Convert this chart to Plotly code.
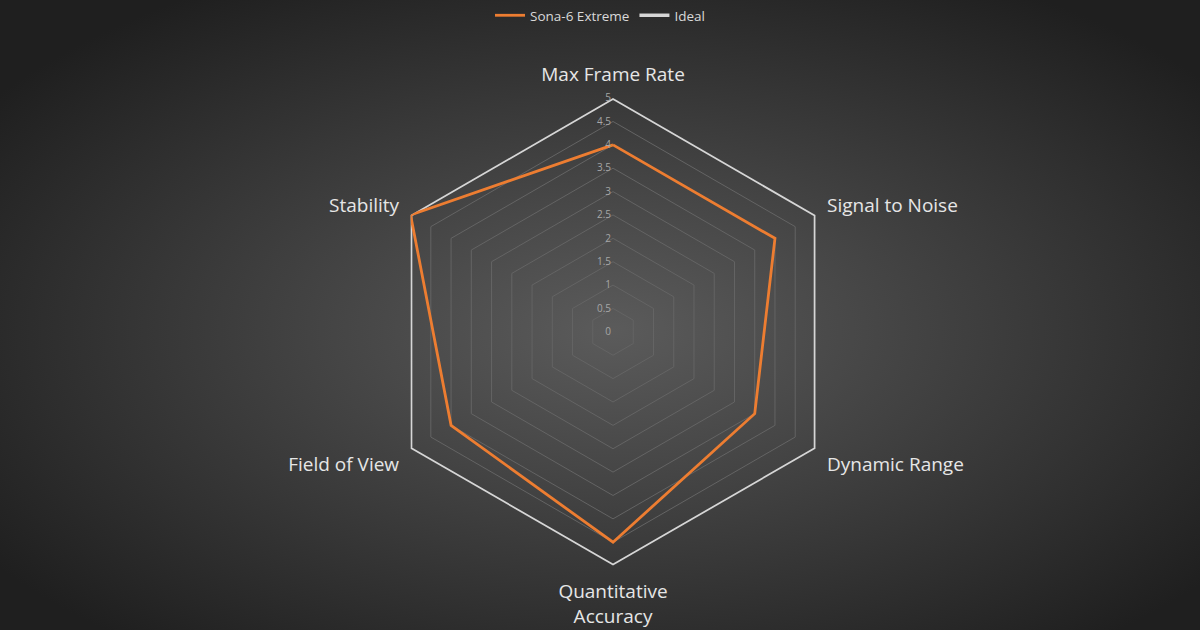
import base64

import plotly.graph_objects as go

# chart data
categories = ['Max Frame Rate', 'Signal to Noise', 'Dynamic Range',
              'Quantitative<br>Accuracy', 'Field of View', 'Stability']
sona_values = [4, 4, 3.5, 4.5, 4, 5]
ideal_values = [5, 5, 5, 5, 5, 5]
series_names = ['Sona-6 Extreme', 'Ideal']


def closed(values):
    return list(values) + [values[0]]


# radial gradient background like the Excel chart area
svg = (
    '<svg xmlns="http://www.w3.org/2000/svg" width="1200" height="630" '
    'preserveAspectRatio="none">'
    '<defs><radialGradient id="g" cx="0.51" cy="0.52" r="0.62">'
    '<stop offset="0" stop-color="#5b5b5b"/>'
    '<stop offset="1" stop-color="#1f1f1f"/>'
    '</radialGradient></defs>'
    '<rect width="1200" height="630" fill="url(#g)"/></svg>'
)
bg_uri = 'data:image/svg+xml;base64,' + base64.b64encode(svg.encode()).decode()

fig = go.Figure()
fig.add_trace(go.Scatterpolar(
    r=closed(ideal_values), theta=closed(categories), name=series_names[1],
    mode='lines', line={'color': '#d6d6d6', 'width': 3.5},
    legendrank=2, hoverinfo='skip',
))
fig.add_trace(go.Scatterpolar(
    r=closed(sona_values), theta=closed(categories), name=series_names[0],
    mode='lines', line={'color': '#ed7d31', 'width': 2.8},
    legendrank=1, hoverinfo='skip',
))

fig.update_layout(
    width=1200, height=630,
    margin={'l': 0, 'r': 0, 't': 0, 'b': 0},
    paper_bgcolor='#252525',
    font={'family': 'Open Sans', 'color': '#d9d9d9'},
    images=[{
        'source': bg_uri, 'xref': 'paper', 'yref': 'paper',
        'x': -0.01, 'y': 1.02, 'sizex': 1.02, 'sizey': 1.04,
        'xanchor': 'left', 'yanchor': 'top',
        'sizing': 'stretch', 'layer': 'below',
    }],
    legend={
        'orientation': 'h', 'x': 0.5, 'xanchor': 'center',
        'y': 1.01, 'yanchor': 'top',
        'font': {'size': 13.5, 'color': '#d9d9d9'},
        'bgcolor': 'rgba(0,0,0,0)', 'itemwidth': 30,
    },
    polar={
        'domain': {'x': [0.3142, 0.7075], 'y': [0.1032, 0.8524]},
        'bgcolor': 'rgba(0,0,0,0)',
        'gridshape': 'linear',
        'angularaxis': {
            'rotation': 90, 'direction': 'clockwise',
            'showgrid': False, 'showline': False,
            'ticks': 'outside', 'ticklen': 9,
            'tickcolor': 'rgba(0,0,0,0)',
            'tickfont': {'size': 19, 'color': '#e6e6e6'},
        },
        'radialaxis': {
            'range': [0, 5], 'dtick': 0.5, 'angle': 90, 'tickangle': 90,
            'side': 'counterclockwise',
            'showline': False, 'ticks': '',
            'gridcolor': '#646464', 'gridwidth': 1,
            'tickfont': {'size': 10, 'color': '#a6a6a6'},
        },
    },
)

# drop the page margin so the figure fills the window
fig.write_html('out.html', config={'displayModeBar': False},
               post_script="document.body.style.margin='0';"
                           "document.body.style.background='#252525';")
